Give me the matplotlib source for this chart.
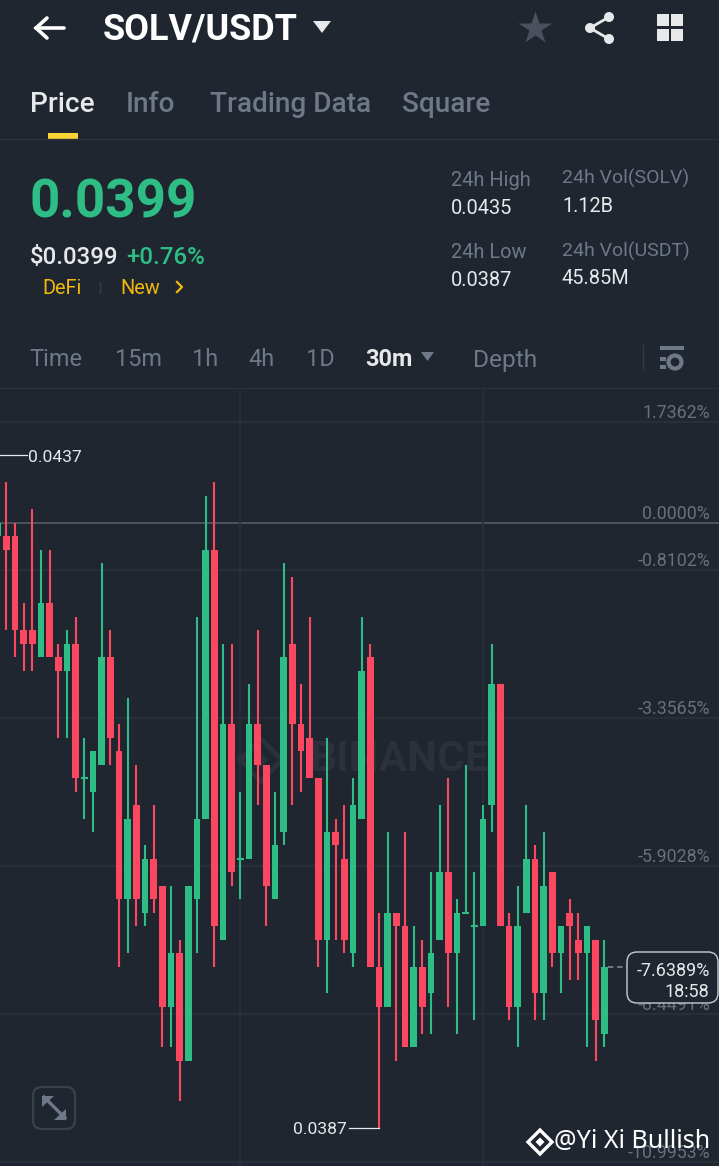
"""Recreates a Binance SOLV/USDT mobile screen with its 30m candle chart."""

import matplotlib
matplotlib.use("Agg")
import matplotlib.pyplot as plt
from matplotlib.patches import FancyBboxPatch, Polygon, Circle, Rectangle

# ----------------------------------------------------------------------
# Data
# ----------------------------------------------------------------------

candle_open = [
    0.0431, 0.0431, 0.0431, 0.0424, 0.0424, 0.0422, 0.0426, 0.0422, 0.0421,
    0.0423, 0.0413, 0.0412, 0.0414, 0.0422, 0.0415, 0.0404, 0.0411, 0.0403,
    0.0407, 0.0405, 0.0396, 0.0400, 0.0392, 0.0404, 0.0410, 0.0430, 0.0401,
    0.0417, 0.0407, 0.0407, 0.0417, 0.0414, 0.0404, 0.0409, 0.0423, 0.0417,
    0.0416, 0.0413, 0.0401, 0.0409, 0.0407, 0.0400, 0.0410, 0.0422, 0.0399,
    0.0396, 0.0403, 0.0402, 0.0393, 0.0399, 0.0397, 0.0401, 0.0406, 0.0400,
    0.0403, 0.0402, 0.0402, 0.0411, 0.0420, 0.0402, 0.0396, 0.0403, 0.0407,
    0.0397, 0.0406, 0.0400, 0.0403, 0.0401, 0.0400, 0.0401, 0.0394,
]
candle_close = [
    0.0432, 0.0430, 0.0424, 0.0423, 0.0423, 0.0426, 0.0422, 0.0421, 0.0423,
    0.0413, 0.0413, 0.0415, 0.0422, 0.0416, 0.0404, 0.0410, 0.0404, 0.0407,
    0.0404, 0.0396, 0.0400, 0.0392, 0.0405, 0.0410, 0.0430, 0.0402, 0.0417,
    0.0406, 0.0407, 0.0417, 0.0414, 0.0405, 0.0408, 0.0422, 0.0417, 0.0415,
    0.0413, 0.0401, 0.0409, 0.0408, 0.0401, 0.0411, 0.0421, 0.0399, 0.0396,
    0.0403, 0.0402, 0.0393, 0.0399, 0.0396, 0.0400, 0.0406, 0.0400, 0.0403,
    0.0403, 0.0402, 0.0410, 0.0420, 0.0402, 0.0396, 0.0402, 0.0407, 0.0397,
    0.0405, 0.0400, 0.0402, 0.0402, 0.0400, 0.0402, 0.0395, 0.0399,
]
candle_high = [
    0.0432, 0.0435, 0.0432, 0.0426, 0.0433, 0.0430, 0.0430, 0.0423, 0.0424,
    0.0425, 0.0416, 0.0415, 0.0429, 0.0424, 0.0417, 0.0419, 0.0414, 0.0408,
    0.0411, 0.0405, 0.0405, 0.0401, 0.0405, 0.0425, 0.0434, 0.0435, 0.0423,
    0.0423, 0.0412, 0.0420, 0.0424, 0.0414, 0.0412, 0.0429, 0.0428, 0.0420,
    0.0425, 0.0413, 0.0416, 0.0410, 0.0411, 0.0413, 0.0425, 0.0423, 0.0403,
    0.0409, 0.0403, 0.0409, 0.0402, 0.0401, 0.0406, 0.0411, 0.0413, 0.0404,
    0.0414, 0.0406, 0.0411, 0.0423, 0.0420, 0.0403, 0.0405, 0.0411, 0.0408,
    0.0409, 0.0406, 0.0402, 0.0404, 0.0403, 0.0402, 0.0401, 0.0401,
]
candle_low = [
    0.0431, 0.0424, 0.0422, 0.0421, 0.0421, 0.0422, 0.0422, 0.0416, 0.0416,
    0.0412, 0.0410, 0.0409, 0.0414, 0.0414, 0.0399, 0.0400, 0.0402, 0.0402,
    0.0403, 0.0393, 0.0393, 0.0389, 0.0392, 0.0400, 0.0410, 0.0399, 0.0401,
    0.0405, 0.0404, 0.0407, 0.0411, 0.0402, 0.0404, 0.0408, 0.0411, 0.0412,
    0.0413, 0.0399, 0.0397, 0.0401, 0.0400, 0.0399, 0.0410, 0.0399, 0.0387,
    0.0396, 0.0392, 0.0393, 0.0393, 0.0394, 0.0394, 0.0401, 0.0396, 0.0394,
    0.0403, 0.0395, 0.0402, 0.0409, 0.0402, 0.0395, 0.0393, 0.0403, 0.0395,
    0.0395, 0.0399, 0.0397, 0.0398, 0.0398, 0.0393, 0.0392, 0.0393,
]

grid_percent = [1.7362, -0.8102, -3.3565, -5.9028, -8.4491, -10.9953]
axis_labels = ["1.7362%", "0.0000%", "-0.8102%", "-3.3565%", "-5.9028%",
               "-8.4491%", "-10.9953%"]
axis_percent = [1.7362, 0.0, -0.8102, -3.3565, -5.9028, -8.4491, -10.9953]
base_price = 0.0432
last_percent = -7.6389
interval_tabs = ["Time", "15m", "1h", "4h", "1D"]
interval_x = [29, 115, 192, 248, 306]
top_tabs = ["Info", "Trading Data", "Square"]
top_tabs_x = [126, 210, 402]

# ----------------------------------------------------------------------
# Module configuration
# ----------------------------------------------------------------------

WIDTH = 719
HEIGHT = 1166
BG = "#1f2630"
GRID = "#2a303b"
GREEN = "#2ebd85"
RED = "#fb4760"
MUTED = "#6f7886"
LIGHT = "#e6e8ea"
YELLOW = "#f0b90b"
WATERMARK = "#2b303b"
FONT = "Roboto"

# pixel layout of the chart area
CHART_TOP = 388
PX_PER_TICK = 13.45
ZERO_Y = 522.7
CANDLE_STEP = 8.667
FIRST_X = -2.37


def price_at_y(y):
    return base_price - (y - ZERO_Y) / PX_PER_TICK * 0.0001


def to_price(percent):
    return base_price * (1 + percent / 100)


def index_at_x(x):
    return (x - FIRST_X) / CANDLE_STEP


def diamond(cx, cy, size):
    return [(cx - size, cy), (cx, cy - size), (cx + size, cy), (cx, cy + size)]


fig = plt.figure(figsize=(WIDTH / 100, HEIGHT / 100), dpi=100, facecolor=BG)

# chart axes, the whole width, from the tab bar to the bottom edge
ax = fig.add_axes([0, 0, 1, 1 - CHART_TOP / HEIGHT], facecolor=BG)
ax.set_xlim(index_at_x(0), index_at_x(WIDTH))
ax.set_ylim(price_at_y(HEIGHT), price_at_y(CHART_TOP))
ax.axis("off")

# overlay in screen pixels for the app chrome
ui = fig.add_axes([0, 0, 1, 1], facecolor="none", zorder=5)
ui.set_xlim(0, WIDTH)
ui.set_ylim(HEIGHT, 0)
ui.axis("off")


def label(x, y, text, px, color=LIGHT, weight="normal", ha="left", family=FONT,
          **kwargs):
    # va center sits about 2 px high for these fonts
    ui.text(x, y + 2, text, fontsize=px * 0.72, color=color, fontweight=weight,
            ha=ha, va="center", family=family, **kwargs)


# grid
for pct in grid_percent:
    ax.axhline(to_price(pct), color=GRID, lw=1.4, zorder=1)
ax.axhline(to_price(0), color="#555a63", lw=1.2, zorder=1)
for px in (240, 483):
    ax.axvline(index_at_x(px), color=GRID, lw=1.2, zorder=1)

# watermark
ax.text(index_at_x(309), price_at_y(760), "BINANCE", fontsize=30.5,
        fontweight="bold", color=WATERMARK, va="center", family=FONT, zorder=1.5)
ax.add_patch(Polygon(diamond(261, 760, 21), fc="none", ec=WATERMARK, lw=3.5,
                     zorder=1.5, transform=ui.transData))
ax.add_patch(Polygon(diamond(261, 760, 7), color=WATERMARK, lw=0, zorder=1.5,
                     transform=ui.transData))
ax.add_patch(Polygon(diamond(241, 758, 5), color=WATERMARK, lw=0, zorder=1.5,
                     transform=ui.transData))

# candles
for i in range(len(candle_open)):
    color = GREEN if candle_close[i] >= candle_open[i] else RED
    low_body = min(candle_open[i], candle_close[i])
    body = abs(candle_close[i] - candle_open[i])
    ax.vlines(i, candle_low[i], candle_high[i], color=color, lw=1.5, zorder=3)
    if body > 0:
        ax.bar(i, body, bottom=low_body, width=0.78, color=color, lw=0,
               zorder=3)
    else:
        ax.hlines(low_body, i - 0.39, i + 0.39, color=color, lw=1.5, zorder=3)

# high and low markers
ax.plot([index_at_x(0), index_at_x(27)], [0.0437, 0.0437], color=LIGHT, lw=0.9,
        zorder=4)
ax.text(index_at_x(28), price_at_y(458), "0.0437", fontsize=12.6, color=LIGHT,
        va="center", family=FONT, zorder=4)
ax.plot([index_at_x(349), 44], [0.0387, 0.0387], color=LIGHT, lw=0.9, zorder=4)
ax.text(index_at_x(347), price_at_y(1130), "0.0387", fontsize=12.6, color=LIGHT,
        va="center", ha="right", family=FONT, zorder=4)

# last price line
ax.plot([len(candle_open) - 1 + 0.4, index_at_x(628)],
        [to_price(last_percent)] * 2, color="#8b8f96", lw=1.1,
        ls=(0, (3.5, 2.5)), zorder=4)

# right axis labels
for text, pct in zip(axis_labels, axis_percent):
    ax.text(index_at_x(710), to_price(pct) + 9 / PX_PER_TICK * 0.0001, text,
            fontsize=12.8, color="#6a707b", ha="right", va="center",
            family=FONT, zorder=4)

# current price box
ui.add_patch(FancyBboxPatch((627, 952), 91, 51,
                            boxstyle="round,pad=0,rounding_size=10",
                            fc=BG, ec="#c9ccd0", lw=1.0, zorder=3))
label(710, 969, "-7.6389%", 18, ha="right", zorder=4)
label(709, 990, "18:58", 18, ha="right", zorder=4)

# header
ui.plot([36, 64], [28, 28], color="white", lw=2.6, solid_capstyle="round")
ui.plot([47, 36, 47], [18, 28, 38], color="white", lw=2.6,
        solid_capstyle="round", solid_joinstyle="miter")
label(103, 28, "SOLV/USDT", 36, color="white", weight="bold")
ui.add_patch(Polygon([(313, 21), (331, 21), (322, 33)], color=LIGHT, lw=0))
ui.plot([535], [28], marker="*", ms=25, color="#4a515d", mec="none")
# share icon
for cx, cy in [(609, 17), (590, 28), (609, 39)]:
    ui.add_patch(Circle((cx, cy), 5, color=LIGHT, lw=0))
ui.plot([609, 590, 609], [17, 28, 39], color=LIGHT, lw=2)
# grid icon
for gx in (657, 671):
    for gy in (14, 29):
        ui.add_patch(Rectangle((gx, gy), 12, 12, color=LIGHT, lw=0))

# top tabs
label(30, 102, "Price", 28, color=LIGHT, weight="medium")
for x, text in zip(top_tabs_x, top_tabs):
    label(x, 102, text, 28, color=MUTED, weight="medium")
ui.add_patch(Rectangle((48, 133), 30, 6, color="#fcd535", lw=0))
ui.plot([0, WIDTH], [139, 139], color="#2b3139", lw=1)

# price block
label(29, 201, "0.0399", 53, color=GREEN, weight="bold")
label(30, 256, "$0.0399", 24, color=LIGHT, weight="medium")
label(126, 256, "+0.76%", 24, color=GREEN, weight="medium")
label(42, 287, "DeFi", 20, color=YELLOW)
ui.plot([100, 100], [283, 292], color="#3a404a", lw=1)
label(120, 287, "New", 20, color=YELLOW)
ui.plot([177, 182, 177], [282, 287, 292], color=YELLOW, lw=1.6)

# 24h stats
label(451, 179, "24h High", 20, color=MUTED)
label(451, 207, "0.0435", 20, color=LIGHT)
label(451, 251, "24h Low", 20, color=MUTED)
label(451, 279, "0.0387", 20, color=LIGHT)
label(562, 176, "24h Vol(SOLV)", 19.5, color=MUTED)
label(562, 205, "1.12B", 20, color=LIGHT)
label(562, 249, "24h Vol(USDT)", 19.5, color=MUTED)
label(562, 277, "45.85M", 20, color=LIGHT)

# interval tabs
for x, text in zip(interval_x, interval_tabs):
    label(x, 358, text, 23.5, color=MUTED)
label(365, 358, "30m", 23.5, color=LIGHT, weight="bold")
ui.add_patch(Polygon([(421, 352), (434, 352), (427.5, 361)], color=MUTED, lw=0))
label(473, 358, "Depth", 24.5, color=MUTED)
ui.plot([643, 643], [345, 370], color="#343a45", lw=1)
ui.add_patch(Rectangle((660, 346), 24, 4, color=MUTED, lw=0))
ui.add_patch(Rectangle((660, 357), 6, 4, color=MUTED, lw=0))
ui.add_patch(Rectangle((660, 365), 6, 4, color=MUTED, lw=0))
ui.add_patch(Circle((675, 362), 6.5, fc=BG, ec=MUTED, lw=3))
ui.plot([0, WIDTH], [388, 388], color="#2b3139", lw=1)

# expand button
ui.add_patch(FancyBboxPatch((33, 1087), 42, 42,
                            boxstyle="round,pad=0,rounding_size=9",
                            fc="none", ec="#3a404a", lw=1.6))
ui.plot([44, 65], [1097, 1118], color="#6f7886", lw=2.4)
ui.add_patch(Polygon([(42, 1096), (54, 1096), (42, 1107)], color="#6f7886", lw=0))
ui.add_patch(Polygon([(66, 1120), (54, 1120), (66, 1109)], color="#6f7886", lw=0))

# footer credit
ui.add_patch(Polygon(diamond(540, 1142, 12), fc="none", ec="white", lw=2.4,
                     zorder=6))
ui.add_patch(Polygon(diamond(540, 1142, 4.5), color="white", lw=0, zorder=6))
label(710, 1140, "@Yi Xi Bullish", 25, color="white", ha="right",
      family="Noto Sans", weight="medium", zorder=6)

fig.savefig("out.png", dpi=100, facecolor=BG)
